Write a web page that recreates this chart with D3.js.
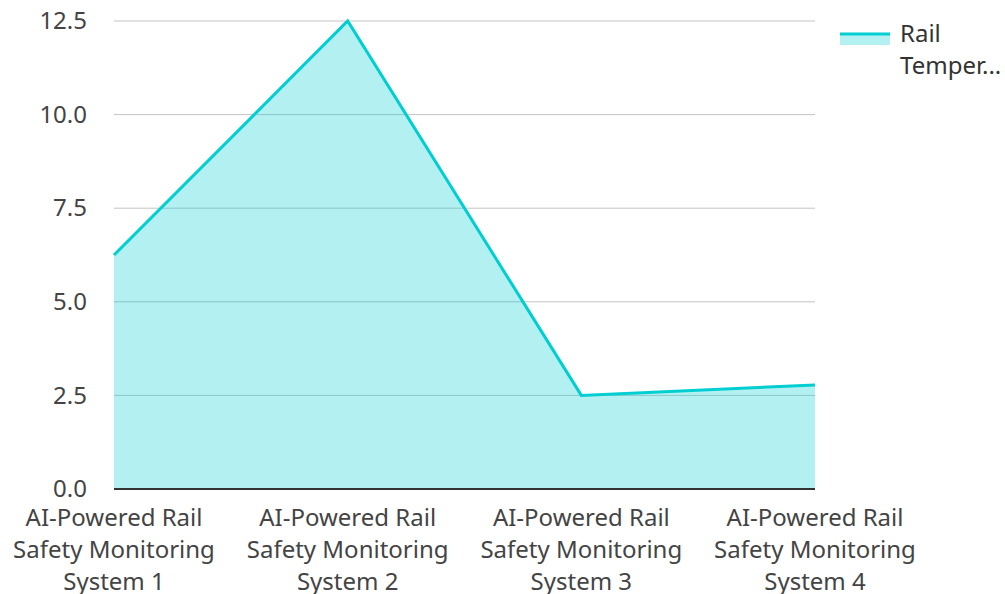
<!DOCTYPE html>
<html>
<head>
<meta charset="utf-8">
<script src="https://cdn.jsdelivr.net/npm/d3@7"></script>
<style>
  html, body { margin: 0; padding: 0; background: #fff; }
  svg { display: block; font-family: "Noto Sans", "Open Sans", sans-serif; }
</style>
</head>
<body>
<svg id="chart" width="1005" height="594"></svg>
<script>
// Rail temperature readings per monitoring system
const categories = [
  "AI-Powered Rail Safety Monitoring System 1",
  "AI-Powered Rail Safety Monitoring System 2",
  "AI-Powered Rail Safety Monitoring System 3",
  "AI-Powered Rail Safety Monitoring System 4"
];
const categoryLines = [
  ["AI-Powered Rail", "Safety Monitoring", "System 1"],
  ["AI-Powered Rail", "Safety Monitoring", "System 2"],
  ["AI-Powered Rail", "Safety Monitoring", "System 3"],
  ["AI-Powered Rail", "Safety Monitoring", "System 4"]
];
const railTemperature = [6.25, 12.5, 2.5, 2.78];
const yTicks = [0, 2.5, 5, 7.5, 10, 12.5];
const seriesName = "Rail Temperature";
const legendLines = ["Rail", "Temper..."];

const color = "#00CED1";
const svg = d3.select("#chart");
const plotLeft = 114, plotRight = 815, plotTop = 21, plotBottom = 489;

const x = d3.scalePoint().domain(categories).range([plotLeft, plotRight]);
const y = d3.scaleLinear().domain([0, 12.5]).range([plotBottom, plotTop]);

// gridlines
svg.append("g")
  .selectAll("line")
  .data(yTicks.filter(d => d > 0))
  .join("line")
  .attr("x1", plotLeft).attr("x2", plotRight)
  .attr("y1", d => y(d)).attr("y2", d => y(d))
  .attr("stroke", "#c4c4c4").attr("stroke-width", 1);

// area + line
const pts = categories.map((c, i) => ({ c, v: railTemperature[i] }));
svg.append("path")
  .datum(pts)
  .attr("fill", color).attr("fill-opacity", 0.3)
  .attr("d", d3.area().x(d => x(d.c)).y0(y(0)).y1(d => y(d.v)));
svg.append("path")
  .datum(pts)
  .attr("fill", "none").attr("stroke", color).attr("stroke-width", 3)
  .attr("stroke-linejoin", "miter")
  .attr("d", d3.line().x(d => x(d.c)).y(d => y(d.v)));

// y axis labels
const yAxis = svg.append("g")
  .attr("transform", `translate(${plotLeft},0)`)
  .call(d3.axisLeft(y).tickValues(yTicks).tickFormat(d3.format(".1f")).tickSize(0).tickPadding(27));
yAxis.select(".domain").remove();
yAxis.selectAll("text").attr("font-size", 24).attr("fill", "#444").attr("font-family", "Noto Sans");

// x axis baseline
svg.append("line")
  .attr("x1", plotLeft).attr("x2", plotRight)
  .attr("y1", plotBottom).attr("y2", plotBottom)
  .attr("stroke", "#333").attr("stroke-width", 2);

// category labels
const xl = svg.append("g").selectAll("text")
  .data(categories)
  .join("text")
  .attr("text-anchor", "middle")
  .attr("font-size", 24)
  .attr("fill", "#444");
xl.each(function(d, i) {
  const t = d3.select(this);
  categoryLines[i].forEach((ln, k) => {
    t.append("tspan").attr("x", x(d)).attr("y", 526 + k * 32).text(ln);
  });
});

// legend
const lg = svg.append("g");
lg.append("rect").attr("x", 840).attr("y", 34).attr("width", 50).attr("height", 11)
  .attr("fill", color).attr("fill-opacity", 0.3);
lg.append("line").attr("x1", 840).attr("x2", 890).attr("y1", 34).attr("y2", 34)
  .attr("stroke", color).attr("stroke-width", 3);
lg.append("text").attr("font-size", 24).attr("fill", "#333")
  .selectAll("tspan").data(legendLines).join("tspan")
  .attr("x", 900).attr("y", (d, k) => 42 + k * 32).text(d => d);
lg.append("title").text(seriesName);
</script>
</body>
</html>
